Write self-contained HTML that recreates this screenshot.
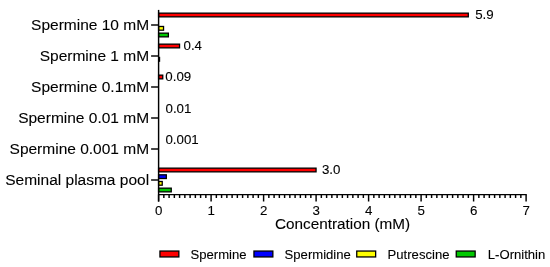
<!DOCTYPE html><html><head><meta charset="utf-8"><title>chart</title><style>html,body{margin:0;padding:0;background:#fff}svg{display:block}text{font-family:"Liberation Sans",Arial,sans-serif;fill:#000}</style></head><body>
<svg width="550" height="267" viewBox="0 0 550 267">
<rect width="550" height="267" fill="#fff"/>
<rect x="158.6" y="13.15" width="309.70" height="3.70" fill="#ff0000" stroke="#000" stroke-width="1.3"/>
<rect x="158.6" y="26.48" width="4.94" height="3.70" fill="#ffff00" stroke="#000" stroke-width="1.3"/>
<rect x="158.6" y="33.15" width="9.77" height="3.70" fill="#00c800" stroke="#000" stroke-width="1.3"/>
<text transform="translate(475.20 18.89) scale(1.0000 1)" font-size="13.30" stroke="#000" stroke-width="0.1">5.9</text>
<rect x="158.6" y="44.15" width="20.95" height="3.70" fill="#ff0000" stroke="#000" stroke-width="1.3"/>
<rect x="158.6" y="56.84" width="1.57" height="5.0" fill="#000"/>
<text transform="translate(183.50 50.30) scale(1.0000 1)" font-size="13.30" stroke="#000" stroke-width="0.1">0.4</text>
<rect x="158.6" y="75.15" width="4.15" height="3.70" fill="#ff0000" stroke="#000" stroke-width="1.3"/>
<text transform="translate(165.30 81.30) scale(1.0000 1)" font-size="13.30" stroke="#000" stroke-width="0.1">0.09</text>
<text transform="translate(165.50 112.70) scale(1.0000 1)" font-size="13.30" stroke="#000" stroke-width="0.1">0.01</text>
<text transform="translate(165.40 143.80) scale(1.0000 1)" font-size="13.30" stroke="#000" stroke-width="0.1">0.001</text>
<rect x="158.6" y="168.15" width="157.45" height="3.70" fill="#ff0000" stroke="#000" stroke-width="1.3"/>
<rect x="158.6" y="174.81" width="7.72" height="3.70" fill="#0000ff" stroke="#000" stroke-width="1.3"/>
<rect x="158.6" y="181.49" width="3.63" height="3.70" fill="#ffff00" stroke="#000" stroke-width="1.3"/>
<rect x="158.6" y="188.16" width="12.65" height="3.70" fill="#00c800" stroke="#000" stroke-width="1.3"/>
<text transform="translate(321.90 173.90) scale(1.0000 1)" font-size="13.30" stroke="#000" stroke-width="0.1">3.0</text>
<path d="M158.6 9.9V201.6" stroke="#000" stroke-width="1.45" fill="none"/>
<path d="M158.0 194.6H526.7" stroke="#000" stroke-width="1.45" fill="none"/>
<path d="M151.1 25H158.6" stroke="#000" stroke-width="1.45"/>
<text transform="translate(149.10 30.30) scale(1.0000 1)" font-size="15.50" text-anchor="end" stroke="#000" stroke-width="0.1">Spermine 10 mM</text>
<path d="M151.1 56H158.6" stroke="#000" stroke-width="1.45"/>
<text transform="translate(149.10 61.30) scale(1.0000 1)" font-size="15.50" text-anchor="end" stroke="#000" stroke-width="0.1">Spermine 1 mM</text>
<path d="M151.1 87H158.6" stroke="#000" stroke-width="1.45"/>
<text transform="translate(149.10 92.30) scale(1.0000 1)" font-size="15.50" text-anchor="end" stroke="#000" stroke-width="0.1">Spermine 0.1mM</text>
<path d="M151.1 118H158.6" stroke="#000" stroke-width="1.45"/>
<text transform="translate(149.10 123.30) scale(1.0000 1)" font-size="15.50" text-anchor="end" stroke="#000" stroke-width="0.1">Spermine 0.01 mM</text>
<path d="M151.1 149H158.6" stroke="#000" stroke-width="1.45"/>
<text transform="translate(149.10 154.30) scale(1.0000 1)" font-size="15.50" text-anchor="end" stroke="#000" stroke-width="0.1">Spermine 0.001 mM</text>
<path d="M151.1 180H158.6" stroke="#000" stroke-width="1.45"/>
<text transform="translate(149.10 185.30) scale(1.0000 1)" font-size="15.50" text-anchor="end" stroke="#000" stroke-width="0.1">Seminal plasma pool</text>
<path d="M158.60 194.6v7M163.85 194.6v3.5M169.10 194.6v3.5M174.35 194.6v3.5M179.60 194.6v3.5M184.85 194.6v3.5M190.10 194.6v3.5M195.35 194.6v3.5M200.60 194.6v3.5M205.85 194.6v3.5M211.10 194.6v7M216.35 194.6v3.5M221.60 194.6v3.5M226.85 194.6v3.5M232.10 194.6v3.5M237.35 194.6v3.5M242.60 194.6v3.5M247.85 194.6v3.5M253.10 194.6v3.5M258.35 194.6v3.5M263.60 194.6v7M268.85 194.6v3.5M274.10 194.6v3.5M279.35 194.6v3.5M284.60 194.6v3.5M289.85 194.6v3.5M295.10 194.6v3.5M300.35 194.6v3.5M305.60 194.6v3.5M310.85 194.6v3.5M316.10 194.6v7M321.35 194.6v3.5M326.60 194.6v3.5M331.85 194.6v3.5M337.10 194.6v3.5M342.35 194.6v3.5M347.60 194.6v3.5M352.85 194.6v3.5M358.10 194.6v3.5M363.35 194.6v3.5M368.60 194.6v7M373.85 194.6v3.5M379.10 194.6v3.5M384.35 194.6v3.5M389.60 194.6v3.5M394.85 194.6v3.5M400.10 194.6v3.5M405.35 194.6v3.5M410.60 194.6v3.5M415.85 194.6v3.5M421.10 194.6v7M426.35 194.6v3.5M431.60 194.6v3.5M436.85 194.6v3.5M442.10 194.6v3.5M447.35 194.6v3.5M452.60 194.6v3.5M457.85 194.6v3.5M463.10 194.6v3.5M468.35 194.6v3.5M473.60 194.6v7M478.85 194.6v3.5M484.10 194.6v3.5M489.35 194.6v3.5M494.60 194.6v3.5M499.85 194.6v3.5M505.10 194.6v3.5M510.35 194.6v3.5M515.60 194.6v3.5M520.85 194.6v3.5M526.10 194.6v7" stroke="#000" stroke-width="1.45" fill="none"/>
<text transform="translate(158.60 215.20) scale(1.0000 1)" font-size="13.30" text-anchor="middle" stroke="#000" stroke-width="0.1">0</text>
<text transform="translate(211.10 215.20) scale(1.0000 1)" font-size="13.30" text-anchor="middle" stroke="#000" stroke-width="0.1">1</text>
<text transform="translate(263.60 215.20) scale(1.0000 1)" font-size="13.30" text-anchor="middle" stroke="#000" stroke-width="0.1">2</text>
<text transform="translate(316.10 215.20) scale(1.0000 1)" font-size="13.30" text-anchor="middle" stroke="#000" stroke-width="0.1">3</text>
<text transform="translate(368.60 215.20) scale(1.0000 1)" font-size="13.30" text-anchor="middle" stroke="#000" stroke-width="0.1">4</text>
<text transform="translate(421.10 215.20) scale(1.0000 1)" font-size="13.30" text-anchor="middle" stroke="#000" stroke-width="0.1">5</text>
<text transform="translate(473.60 215.20) scale(1.0000 1)" font-size="13.30" text-anchor="middle" stroke="#000" stroke-width="0.1">6</text>
<text transform="translate(526.10 215.20) scale(1.0000 1)" font-size="13.30" text-anchor="middle" stroke="#000" stroke-width="0.1">7</text>
<text transform="translate(342.60 229.10) scale(1.0000 1)" font-size="15.30" text-anchor="middle" stroke="#000" stroke-width="0.1">Concentration (mM)</text>
<rect x="159.95000000000002" y="251.05" width="18.9" height="5.9" fill="#ff0000" stroke="#000" stroke-width="1.3"/>
<text transform="translate(190.50 258.50) scale(1.0000 1)" font-size="13.10" stroke="#000" stroke-width="0.1">Spermine</text>
<rect x="253.95000000000002" y="251.05" width="18.9" height="5.9" fill="#0000ff" stroke="#000" stroke-width="1.3"/>
<text transform="translate(284.60 258.50) scale(1.0000 1)" font-size="13.10" stroke="#000" stroke-width="0.1">Spermidine</text>
<rect x="356.75" y="251.05" width="18.9" height="5.9" fill="#ffff00" stroke="#000" stroke-width="1.3"/>
<text transform="translate(387.60 258.50) scale(1.0000 1)" font-size="13.10" stroke="#000" stroke-width="0.1">Putrescine</text>
<rect x="456.25" y="251.05" width="18.9" height="5.9" fill="#00c800" stroke="#000" stroke-width="1.3"/>
<text transform="translate(487.80 258.50) scale(1.0000 1)" font-size="13.10" stroke="#000" stroke-width="0.1">L-Ornithin</text>
</svg></body></html>
